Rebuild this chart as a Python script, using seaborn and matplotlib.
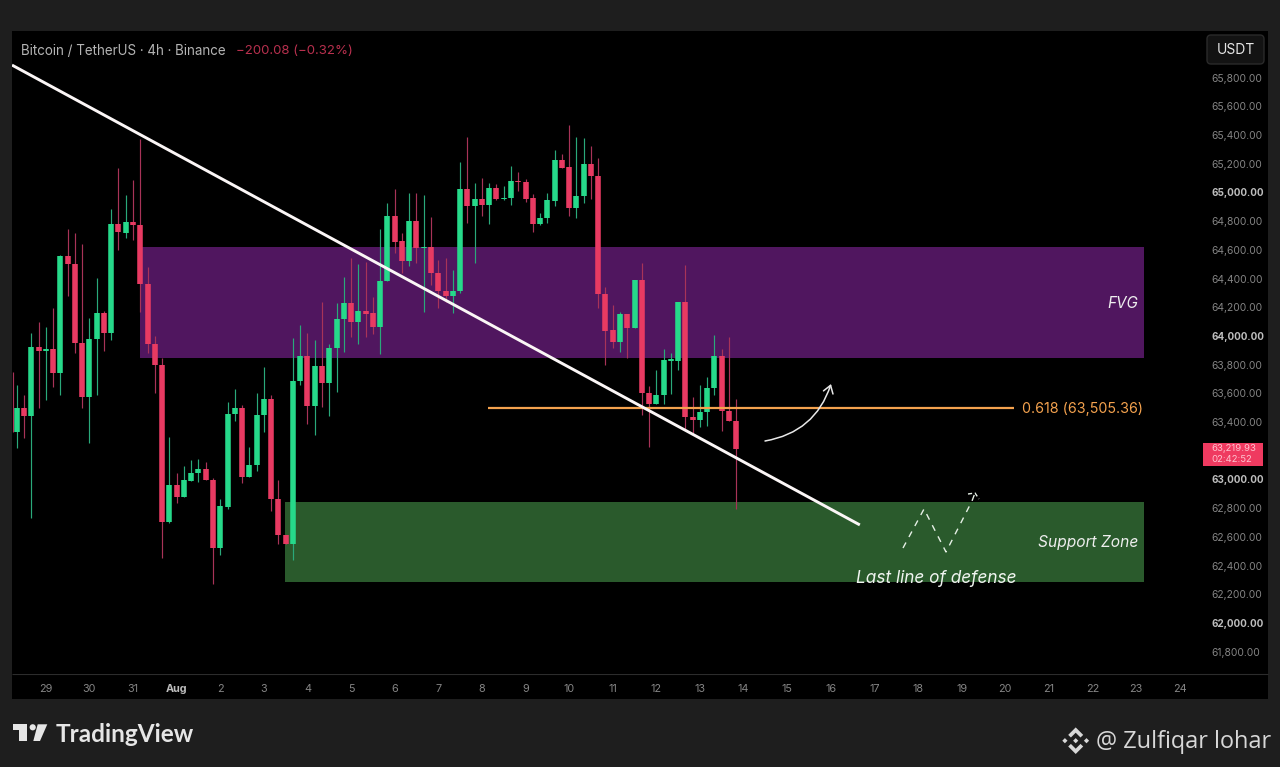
"""
BTC/USDT 4h chart with zones and trendline, TradingView dark look
"""

import numpy as np
import pandas as pd
import matplotlib.pyplot as plt
import seaborn as sns
from matplotlib.patches import Rectangle, Polygon, Circle, FancyBboxPatch

# ==========================
# Data
# ==========================
opens = [63333, 63496, 63442, 63921, 63895, 63909, 63744, 64557, 64499, 63953,
         63577, 63979, 64158, 64018, 64780, 64720, 64792, 64773, 64362, 63942,
         63795, 62706, 62961, 62875, 62991, 63043, 63071, 62996, 62520, 62810,
         63454, 63496, 63019, 63101, 63449, 63561, 62861, 62613, 62550, 63686,
         63860, 63512, 63791, 63674, 63914, 64116, 64227, 64097, 64176, 64162,
         64065, 64381, 64836, 64662, 64522, 64803, 64615, 64622, 64436, 64316,
         64278, 64313, 65026, 64906, 64954, 64913, 65029, 64952, 64959, 65080,
         65071, 64959, 64778, 64820, 64943, 65226, 65175, 64892, 64975, 65196,
         65117, 64292, 64042, 63960, 64151, 64053, 64388, 63600, 63526, 63589,
         63828, 63828, 64234, 63433, 63414, 63470, 63635, 63860, 63477, 63410]
highs = [63658, 63589, 64018, 64100, 64065, 64192, 64564, 64743, 64715, 64641,
         64123, 64406, 64176, 64882, 65168, 64982, 65087, 65370, 64483, 64000,
         63844, 63293, 63047, 63096, 63136, 63140, 63124, 63008, 62861, 63542,
         63628, 63519, 63224, 63600, 63786, 63589, 62996, 62613, 63983, 64076,
         64018, 63972, 64239, 63944, 64232, 64409, 64541, 64501, 64518, 64274,
         64743, 64929, 65022, 64715, 64994, 64994, 64982, 64827, 64529, 64541,
         64460, 65210, 65389, 65068, 65098, 65068, 65059, 65045, 65184, 65145,
         65092, 64989, 64859, 64994, 65296, 65266, 65470, 65384, 65377, 65324,
         65238, 64344, 64216, 64169, 64151, 64388, 64506, 63651, 63763, 63907,
         63884, 64239, 64494, 63572, 63658, 63712, 64007, 63907, 63990, 63558]
lows = [63217, 63287, 62729, 63496, 63554, 63647, 63589, 64278, 63879, 63496,
        63256, 63589, 63897, 63972, 64599, 64680, 64669, 64169, 63879, 63600,
        62450, 62699, 62838, 62875, 62991, 62985, 62996, 62271, 62473, 62792,
        63407, 62973, 63015, 63061, 63333, 62782, 62550, 62550, 62439, 63658,
        63386, 63310, 63503, 63442, 63612, 63886, 63990, 63944, 63990, 64014,
        63874, 64381, 64576, 64436, 64490, 64506, 64169, 64355, 64192, 64239,
        64162, 64297, 64785, 64511, 64836, 64780, 64947, 64947, 64913, 65013,
        64931, 64727, 64773, 64789, 64906, 65173, 64836, 64820, 64924, 64952,
        64192, 63798, 63914, 63891, 63844, 64053, 63449, 63228, 63526, 63526,
        63595, 63763, 63345, 63326, 63363, 63372, 63589, 63340, 63407, 62792]
closes = [63496, 63442, 63921, 63895, 63909, 63744, 64560, 64499, 63953, 63577,
          63979, 64158, 64018, 64780, 64722, 64792, 64771, 64360, 63942, 63795,
          62706, 62961, 62875, 62996, 63043, 63071, 62996, 62520, 62815, 63456,
          63496, 63019, 63101, 63449, 63561, 62861, 62613, 62550, 63688, 63860,
          63512, 63791, 63674, 63918, 64118, 64227, 64100, 64176, 64153, 64065,
          64381, 64836, 64657, 64522, 64803, 64615, 64622, 64436, 64313, 64278,
          64316, 65026, 64906, 64954, 64913, 65029, 64952, 64961, 65078, 65075,
          64954, 64780, 64820, 64947, 65226, 65173, 64892, 64975, 65196, 65117,
          64290, 64037, 63960, 64153, 64053, 64388, 63600, 63526, 63591, 63832,
          63837, 64239, 63433, 63414, 63470, 63640, 63860, 63479, 63407, 63210]

edge_wick_x = [-0.55, -0.55]
edge_wick_price = [63751, 63333]

day_labels = ["29", "30", "31", "Aug", "2", "3", "4", "5", "6", "7", "8", "9", "10",
              "11", "12", "13", "14", "15", "16", "17", "18", "19", "20", "21", "22",
              "23", "24"]
day_ticks = [4 + 6 * k for k in range(len(day_labels))]
# 63,200 sits under the last price box, so no label there
price_ticks = [p for p in range(61800, 66000, 200) if p != 63200]
bold_prices = [62000, 63000, 64000, 65000]

# zones as (left bar, right bar, low price, high price)
fvg_zone = [17.0, 155.1, 63844, 64622]
support_zone = [36.9, 155.1, 62288, 62845]

trend_x = [-0.65, 116.0]
trend_y = [65888, 62683]
fib_x = [64.8, 137.2]
fib_y = [63498, 63498]

# Colors
BG = "#1e1e1e"
GREEN = "#26d98a"
RED = "#e83a62"
GREEN_WICK = "#2aa97a"
RED_WICK = "#a83358"
PURPLE = "#50165f"
DARK_GREEN = "#2a5a2c"
ORANGE = "#f4a24e"
GREY = "#858585"

# ==========================
# Layout
# ==========================
sns.set_theme(style="dark", rc={"lines.solid_capstyle": "butt"})
plt.rcParams["font.family"] = ["Inter", "DejaVu Sans"]

fig = plt.figure(figsize=(12.8, 7.67), dpi=100, facecolor=BG)

back = fig.add_axes([0, 0, 1, 1], zorder=-1)
back.set_xlim(0, 1280)
back.set_ylim(767, 0)
back.axis("off")
back.add_patch(Rectangle((12, 31), 1256, 668, color="black", lw=0))
back.plot([12, 1268], [674, 674], color="#2c2c2c", lw=0.8)

ax = fig.add_axes([12 / 1280, (767 - 674) / 767, 1188 / 1280, 643 / 767], facecolor="black")
ax.set_xlim(-0.65, 162.8)
ax.set_ylim(61644, 66125.5)

# ==========================
# Zones
# ==========================
for zone, col in [(fvg_zone, PURPLE), (support_zone, DARK_GREEN)]:
    ax.add_patch(Rectangle((zone[0], zone[2]), zone[1] - zone[0], zone[3] - zone[2],
                           color=col, lw=0, zorder=1))

# ==========================
# Candles
# ==========================
df = pd.DataFrame({"open": opens, "high": highs, "low": lows, "close": closes})
df["bar"] = np.arange(len(df))
df["side"] = np.where(df["close"] >= df["open"], "up", "down")

wicks = df.melt(id_vars=["bar", "side"], value_vars=["high", "low"], value_name="price")
bodies = df.melt(id_vars=["bar", "side"], value_vars=["open", "close"], value_name="price")

sns.lineplot(data=wicks, x="bar", y="price", hue="side", units="bar", estimator=None,
             palette={"up": GREEN_WICK, "down": RED_WICK}, linewidth=0.85, legend=False,
             sort=False, ax=ax, zorder=2)
sns.lineplot(x=edge_wick_x, y=edge_wick_price, color=RED_WICK, linewidth=0.85, sort=False,
             estimator=None, ax=ax, zorder=2)
sns.lineplot(data=bodies, x="bar", y="price", hue="side", units="bar", estimator=None,
             palette={"up": GREEN, "down": RED}, linewidth=4.0, legend=False,
             sort=False, ax=ax, zorder=3)

# Trendline and fib level
sns.lineplot(x=fib_x, y=fib_y, color=ORANGE, linewidth=1.6, sort=False, estimator=None,
             ax=ax, zorder=4)
sns.lineplot(x=trend_x, y=trend_y, color="#fbf6f6", linewidth=2.1, sort=False, estimator=None,
             ax=ax, zorder=5)

# ==========================
# Axes
# ==========================
sns.despine(ax=ax, left=True, bottom=True)
ax.grid(False)
ax.set_xlabel("")
ax.set_ylabel("")
ax.yaxis.tick_right()
ax.set_yticks(price_ticks)
ax.set_yticklabels([f"{p:,.2f}" for p in price_ticks])
ax.set_xticks(day_ticks)
ax.set_xticklabels(day_labels)
ax.tick_params(axis="y", length=0, pad=8, labelsize=7.4, labelcolor=GREY)
ax.tick_params(axis="x", length=0, pad=7, labelsize=7.8, labelcolor=GREY)
for lab, p in zip(ax.get_yticklabels(), price_ticks):
    if p in bold_prices:
        lab.set_fontweight("bold")
        lab.set_fontsize(7.1)
        lab.set_color("#bdbdbd")
for lab in ax.get_xticklabels():
    if lab.get_text() == "Aug":
        lab.set_fontweight("bold")
        lab.set_color("#bdbdbd")

# ==========================
# Overlay, in picture pixels
# ==========================
ov = fig.add_axes([0, 0, 1, 1], zorder=5)
ov.set_xlim(0, 1280)
ov.set_ylim(767, 0)
ov.axis("off")

ov.text(21, 51, "Bitcoin / TetherUS · 4h · Binance", color="#b4b4b4", fontsize=9.65, va="center")
ov.text(236, 51, "−200.08 (−0.32%)", color="#b8304e", fontsize=9.5, va="center")

ov.add_patch(FancyBboxPatch((1207, 35), 57, 29, boxstyle="round,pad=0,rounding_size=4",
                            fc="#131313", ec="#2a2a2a", lw=1))
ov.text(1235.5, 50, "USDT", color="#e6e6e6", fontsize=10, ha="center", va="center")

ov.add_patch(Rectangle((1203, 443), 60, 23, color="#ef3a60", lw=0))
ov.text(1211.5, 448.5, "63,219.93", color="#ffc2cf", fontsize=6.9, va="center")
ov.text(1211.5, 459.5, "02:42:52", color="#ffc2cf", fontsize=6.9, va="center")

ov.text(1022, 408.5, "0.618 (63,505.36)", color=ORANGE, fontsize=10.3, va="center")
ov.text(1138, 303.5, "FVG", color="#eeeeee", fontsize=11, style="italic", ha="right", va="center")
ov.text(1138, 543, "Support Zone", color="#eeeeee", fontsize=11.2, style="italic", ha="right", va="center")
ov.text(856, 578.5, "Last line of defense", color="#f0f4f0", fontsize=12.4, style="italic", va="center")

# Hand drawn arrow and dashed path
ov.annotate("", xy=(831, 384), xytext=(765, 441),
            arrowprops=dict(arrowstyle="->,head_length=0.45,head_width=0.3", color="#e8e8e8",
                            lw=1.1, connectionstyle="arc3,rad=0.3", shrinkA=0, shrinkB=0))
path_x = [903, 924, 946, 972, 975]
path_y = [548, 509, 552, 501, 493]
ov.plot(path_x, path_y, color="#e6f0e6", lw=1, linestyle=(0, (4.5, 4.5)))
ov.plot([968, 975, 979], [494, 493, 499], color="#e6f0e6", lw=1, linestyle=(0, (3, 2)))

# TradingView logo
LOGO = "#e6e6e6"
ov.add_patch(Polygon([(13.3, 724.3), (27.3, 724.3), (27.3, 741), (19.3, 741), (19.3, 730), (13.3, 730)],
                     color=LOGO, lw=0))
ov.add_patch(Circle((32.7, 727.3), 3.1, color=LOGO, lw=0))
ov.add_patch(Polygon([(37.7, 724.3), (47.3, 724.3), (40, 741), (33.3, 741)], color=LOGO, lw=0))
ov.text(56, 734.5, "TradingView", color=LOGO, fontsize=17.5, fontweight="bold",
        family=["Lato", "DejaVu Sans"], va="center")

# Binance mark and handle
MARK = "#d8d8d8"
cx, cy = 1075.7, 740.7
chevron = np.array([(0, -13.3), (7.5, -5.8), (4.8, -3.2), (0, -8), (-4.8, -3.2), (-7.5, -5.8)])
ov.add_patch(Polygon(chevron + (cx, cy), color=MARK, lw=0))
ov.add_patch(Polygon(chevron * (1, -1) + (cx, cy), color=MARK, lw=0))
for dx in [-10.8, 0, 10.8]:
    ov.add_patch(Polygon([(cx + dx - 2.6, cy), (cx + dx, cy - 2.6), (cx + dx + 2.6, cy), (cx + dx, cy + 2.6)],
                         color=MARK, lw=0))
ov.text(1096, 742.5, "@ Zulfiqar lohar", color=MARK, fontsize=16.9,
        family=["Open Sans", "DejaVu Sans"], va="center")

plt.savefig("out.png", dpi=100, facecolor=BG)
plt.close()
